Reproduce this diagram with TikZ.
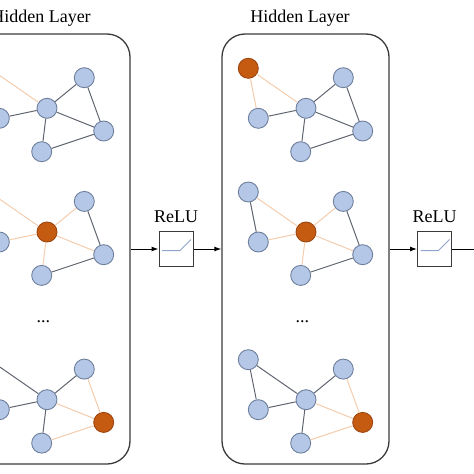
\documentclass[tikz,border=0pt]{standalone}
\usepackage{fontspec}
\setmainfont{Liberation Serif}
\usetikzlibrary{arrows.meta,positioning}
\definecolor{nodeblue}{HTML}{B4C7E7}
\definecolor{nodeline}{HTML}{6E7F9C}
\definecolor{hotfill}{HTML}{C55A11}
\definecolor{hotline}{HTML}{9C4510}
\definecolor{hotedge}{HTML}{F4CCAE}
\definecolor{coldedge}{HTML}{60656F}
\definecolor{boxline}{HTML}{3A3A3A}
\definecolor{reluline}{HTML}{8FA4C8}

\begin{document}
\begin{tikzpicture}[
  x=1pt,y=-1pt,
  font=\fontsize{18}{20}\selectfont,
  >={Latex[length=7pt,width=5pt]},
  layer/.style={draw=boxline,line width=1.3pt,rounded corners=23pt,minimum width=167pt,minimum height=430pt},
  vertex/.style={circle,draw=nodeline,fill=nodeblue,line width=0.9pt,minimum size=20pt,inner sep=0pt},
  hot/.style={vertex,draw=hotline,fill=hotfill},
  cold/.style={coldedge,line width=1pt},
  warm/.style={hotedge,line width=1pt},
  act/.style={draw=boxline,line width=1pt,minimum width=34pt,minimum height=35pt},
  line/.style={->,line width=1pt,black}
]
\useasboundingbox (0,0) rectangle (474,474);
\clip (0,0) rectangle (474,474);

% Two hidden layers, each holding the same three small graphs.
\foreach \l/\dx in {1/-259,2/0}{
  \node[layer] (box\l) at (305.5+\dx,249) {};
  \node (title\l) at (300+\dx,18) {Hidden Layer};
  \node (dots\l) at (302.3+\dx,321.7) {...};
  \foreach \g/\dy/\h in {t/0/1,m/123.7/3,b/291.4/5}{
    \begin{scope}[shift={(\dx,\dy)}]
      \foreach \i/\x/\y in {1/248.3/68.3,2/258.3/118.3,3/306/108.3,4/343.3/77.7,5/362.7/131,6/300.7/151.7}{
        \ifnum\i=\h\relax \node[hot] (v\l\g\i) at (\x,\y) {};
        \else \node[vertex] (v\l\g\i) at (\x,\y) {}; \fi
      }
    \end{scope}
  }
  % top graph: feature of node 1
  \foreach \a/\b in {2/3,3/4,3/5,3/6,4/5,6/5} \draw[cold] (v\l t\a) -- (v\l t\b);
  \foreach \a/\b in {1/2,1/3} \draw[warm] (v\l t\a) -- (v\l t\b);
  % middle graph: feature of the hub
  \foreach \a/\b in {1/2,4/5,6/5} \draw[cold] (v\l m\a) -- (v\l m\b);
  \foreach \a/\b in {1/3,2/3,3/4,3/5,3/6} \draw[warm] (v\l m\a) -- (v\l m\b);
  % bottom graph: feature of node 5
  \foreach \a/\b in {1/2,1/3,2/3,3/4,3/6} \draw[cold] (v\l b\a) -- (v\l b\b);
  \foreach \a/\b in {3/5,4/5,6/5} \draw[warm] (v\l b\a) -- (v\l b\b);
}

% Activations between layers.
\foreach \i/\x in {1/176,2/434.5}{
  \node[act] (act\i) at (\x,249) {};
  \node[above=5pt of act\i] (relu\i) {ReLU};
  \draw[reluline,line width=1pt] ([shift={(-14,1.5)}]act\i.center) -- ++(18,0) -- ++(11,-11);
}
\coordinate (out) at (474,249);
\draw[line] (box1.east) -- (act1.west);
\draw[line] (act1.east) -- (box2.west);
\draw[line] (box2.east) -- (act2.west);
\draw[line width=1pt] (act2.east) -- (out);
\end{tikzpicture}
\end{document}
